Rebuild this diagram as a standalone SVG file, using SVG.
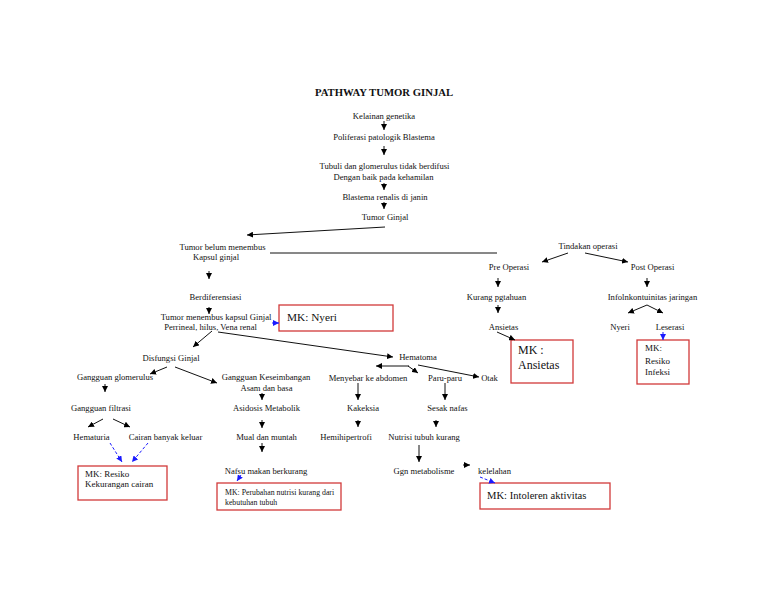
<svg xmlns="http://www.w3.org/2000/svg" width="768" height="594" viewBox="0 0 768 594">
<defs>
<marker id="ah" viewBox="0 0 10 10" refX="10" refY="5" markerWidth="6" markerHeight="6" orient="auto" markerUnits="userSpaceOnUse"><path d="M0,0 L10,5 L0,10 z" fill="#000"/></marker>
<marker id="ahb" viewBox="0 0 10 10" refX="10" refY="5" markerWidth="6" markerHeight="6" orient="auto" markerUnits="userSpaceOnUse"><path d="M0,0 L10,5 L0,10 z" fill="#1a1aff"/></marker>
<style>
text{font-family:"Liberation Serif","Times New Roman",serif;font-size:8.6px;fill:#111;}
.c{text-anchor:middle;}
.t{font-weight:bold;font-size:10.7px;}
.box{fill:#fff;stroke:#d23a3a;stroke-width:1.3;}
.ln{stroke:#111;stroke-width:1;fill:none;marker-end:url(#ah);}
.pl{stroke:#111;stroke-width:1;fill:none;}
.bl{stroke:#1a1aff;stroke-width:1;fill:none;marker-end:url(#ahb);}
.bd{stroke:#1a1aff;stroke-width:1;fill:none;stroke-dasharray:3,2;marker-end:url(#ahb);}
</style>
</defs>
<rect width="768" height="594" fill="#fff"/>
<g id="title"><text class="c t" x="384" y="96">PATHWAY TUMOR GINJAL</text></g>
<g id="n1"><text class="c" x="384" y="119">Kelainan genetika</text></g>
<g id="n2"><text class="c" x="384" y="140">Poliferasi patologik Blastema</text></g>
<g id="n3"><text class="c" x="384.5" y="169">Tubuli dan glomerulus tidak berdifusi</text><text class="c" x="383.5" y="180">Dengan baik  pada kehamilan</text></g>
<g id="n4"><text class="c" x="385" y="200">Blastema renalis di janin</text></g>
<g id="n5"><text class="c" x="385" y="220">Tumor Ginjal</text></g>
<g id="n6"><text class="c" x="222.5" y="250">Tumor belum menembus</text><text class="c" x="216" y="260">Kapsul ginjal</text></g>
<g id="n7"><text class="c" x="215.5" y="300">Berdiferensiasi</text></g>
<g id="n8"><text class="c" x="216" y="320">Tumor menembus kapsul Ginjal</text><text class="c" x="210.5" y="330">Perrineal, hilus, Vena renal</text></g>
<g id="mk1"><rect class="box" x="279" y="305" width="114" height="26"/><text x="287" y="321" style="font-size:11.3px">MK: Nyeri</text></g>
<g id="n9"><text class="c" x="171" y="361">Disfungsi Ginjal</text></g>
<g id="n10"><text class="c" x="115" y="380">Gangguan glomerulus</text></g>
<g id="n11"><text class="c" x="266" y="380">Gangguan Keseimbangan</text><text class="c" x="266.5" y="391">Asam dan basa</text></g>
<g id="n12"><text class="c" x="101" y="411">Gangguan filtrasi</text></g>
<g id="n13"><text class="c" x="266.5" y="411">Asidosis Metabolik</text></g>
<g id="n14"><text class="c" x="91.5" y="440">Hematuria</text></g>
<g id="n15"><text class="c" x="165.5" y="440">Cairan banyak keluar</text></g>
<g id="n16"><text class="c" x="266.5" y="440">Mual dan muntah</text></g>
<g id="mk2"><rect class="box" x="78" y="466" width="89" height="34"/><text x="85" y="477" style="font-size:9px">MK: Resiko</text><text x="85" y="487" style="font-size:9px">Kekurangan cairan</text></g>
<g id="n17"><text class="c" x="266" y="474">Nafsu makan berkurang</text></g>
<g id="mk3"><rect class="box" x="217" y="483" width="124" height="27"/><text x="225" y="494.5" style="font-size:7.8px">MK: Perubahan  nutrisi kurang dari</text><text x="225" y="504.5" style="font-size:7.8px">kebutuhan tubuh</text></g>
<g id="n18"><text class="c" x="418" y="360">Hematoma</text></g>
<g id="n19"><text class="c" x="368" y="381">Menyebar ke abdomen</text></g>
<g id="n20"><text class="c" x="445" y="381">Paru-paru</text></g>
<g id="n21"><text class="c" x="489.5" y="381">Otak</text></g>
<g id="n22"><text class="c" x="363" y="411">Kakeksia</text></g>
<g id="n23"><text class="c" x="447.5" y="411">Sesak nafas</text></g>
<g id="n24"><text class="c" x="346" y="440">Hemihipertrofi</text></g>
<g id="n25"><text class="c" x="424" y="440">Nutrisi tubuh kurang</text></g>
<g id="n26"><text class="c" x="424" y="474">Ggn metabolisme</text></g>
<g id="n27"><text class="c" x="494.5" y="474">kelelahan</text></g>
<g id="mk4"><rect class="box" x="480" y="483" width="130" height="26"/><text x="487" y="499" style="font-size:10.6px">MK: Intoleren aktivitas</text></g>
<g id="n28"><text class="c" x="588" y="249">Tindakan operasi</text></g>
<g id="n29"><text class="c" x="509" y="270">Pre Operasi</text></g>
<g id="n30"><text class="c" x="652.5" y="270">Post Operasi</text></g>
<g id="n31"><text class="c" x="496.5" y="300">Kurang pgtahuan</text></g>
<g id="n32"><text class="c" x="652.5" y="300">Infolnkontuinitas jaringan</text></g>
<g id="n33"><text class="c" x="503.5" y="330">Ansietas</text></g>
<g id="n34"><text class="c" x="620" y="330">Nyeri</text></g>
<g id="n35"><text class="c" x="670" y="330">Leserasi</text></g>
<g id="mk5"><rect class="box" x="511" y="340" width="62" height="43"/><text x="518" y="354" style="font-size:12px">MK :</text><text x="518" y="369" style="font-size:12px">Ansietas</text></g>
<g id="mk6"><rect class="box" x="637" y="340" width="52" height="44"/><text x="645" y="351" style="font-size:9px">MK:</text><text x="645" y="364" style="font-size:9px">Resiko</text><text x="645" y="375" style="font-size:9px">Infeksi</text></g>
<g id="connectors">
<line class="ln" x1="384" y1="121" x2="384" y2="130"/>
<line class="ln" x1="384" y1="146" x2="384" y2="155"/>
<line class="ln" x1="384" y1="183" x2="384" y2="190"/>
<line class="ln" x1="384" y1="202" x2="384" y2="209"/>
<line class="ln" x1="385" y1="227" x2="247" y2="235"/>
<line class="pl" x1="270" y1="253" x2="497" y2="253"/>
<line class="ln" x1="209" y1="271" x2="209" y2="279"/>
<line class="ln" x1="209" y1="307" x2="209" y2="314"/>
<line class="bl" x1="272" y1="323" x2="279" y2="323"/>
<line class="ln" x1="212" y1="331" x2="193" y2="347"/>
<line class="ln" x1="218" y1="332" x2="393" y2="357"/>
<line class="ln" x1="167" y1="367" x2="150" y2="374"/>
<line class="ln" x1="175" y1="367" x2="217" y2="383"/>
<line class="ln" x1="105" y1="384" x2="105" y2="392"/>
<line class="ln" x1="262" y1="393" x2="262" y2="400"/>
<line class="ln" x1="103" y1="419" x2="88" y2="427"/>
<line class="ln" x1="113" y1="419" x2="130" y2="427"/>
<line class="ln" x1="262" y1="420" x2="262" y2="428"/>
<line class="ln" x1="262" y1="443" x2="262" y2="452"/>
<line class="bd" x1="110" y1="443" x2="122" y2="462"/>
<line class="bd" x1="148" y1="443" x2="132" y2="462"/>
<line class="bd" x1="241" y1="475" x2="237" y2="481"/>
<line class="ln" x1="409" y1="366" x2="376" y2="366"/>
<line class="ln" x1="408" y1="366" x2="418" y2="373"/>
<line class="ln" x1="418" y1="365" x2="479" y2="377"/>
<line class="ln" x1="358" y1="383" x2="358" y2="400"/>
<line class="ln" x1="445" y1="383" x2="445" y2="400"/>
<line class="ln" x1="358" y1="420" x2="358" y2="427"/>
<line class="ln" x1="436" y1="420" x2="436" y2="427"/>
<line class="ln" x1="419" y1="445" x2="419" y2="462"/>
<line class="ln" x1="463" y1="465" x2="470" y2="465"/>
<line class="bd" x1="480" y1="477" x2="495" y2="483"/>
<line class="ln" x1="568" y1="253" x2="542" y2="262"/>
<line class="ln" x1="585" y1="253" x2="628" y2="262"/>
<line class="ln" x1="498" y1="278" x2="498" y2="287"/>
<line class="ln" x1="647" y1="278" x2="647" y2="287"/>
<line class="ln" x1="498" y1="305" x2="498" y2="313"/>
<line class="ln" x1="647" y1="305" x2="628" y2="313"/>
<line class="ln" x1="647" y1="305" x2="663" y2="313"/>
<line class="ln" x1="497" y1="332" x2="515" y2="340"/>
<line class="bl" x1="663" y1="332" x2="663" y2="340"/>
</g>
</svg>
